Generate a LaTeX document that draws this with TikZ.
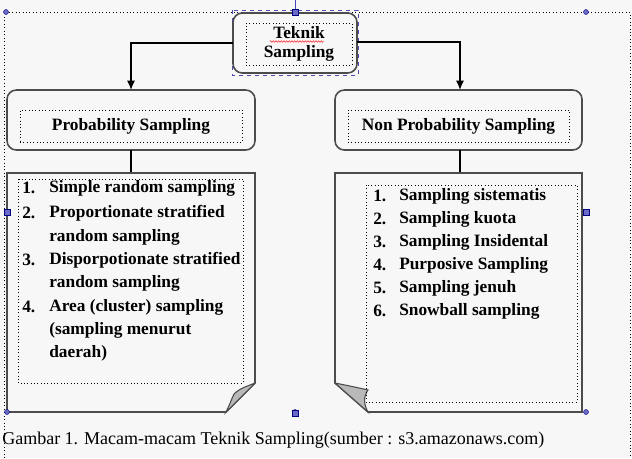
\documentclass[tikz,border=0pt]{standalone}
\usepackage{fontspec}
\setmainfont{Liberation Serif}
\usetikzlibrary{arrows.meta,decorations.pathmorphing}
\begin{document}
\begin{tikzpicture}[x=0.75pt,y=-0.75pt,
  rbox/.style={draw=black!70,line width=1.2pt,rounded corners=7pt},
  inner/.style={draw=black,dotted,line width=0.5pt},
  conn/.style={line width=0.9pt},
  arr/.style={conn,-{Latex[length=7pt,width=6pt]}},
  itm/.style={anchor=west,font=\fontsize{13}{14.5}\selectfont\bfseries,inner sep=0pt},
  hnd/.style={fill=blue!45!gray!80,draw=blue!50!black,line width=0.3pt},
  fold/.style={fill=gray!55,draw=black!70,line width=0.8pt}]
\useasboundingbox (0,0) rectangle (632,458);
\fill[gray!6] (0,0) rectangle (632,458);
% frame
\draw[dotted,line width=0.6pt] (4,458) -- (4,12) -- (630,12) -- (630,458);
% Teknik
\draw[dashed,blue!40!gray,line width=0.5pt] (232,10) rectangle (358,75);
\draw[rbox] (233,13) rectangle (357,73);
\node[inner,minimum width=106*0.75pt,minimum height=42*0.75pt,align=center,font=\fontsize{13}{14.5}\selectfont\bfseries,inner sep=1pt] (tk) at (299,44) {Teknik\\Sampling};
\draw[red,line width=0.3pt,decorate,decoration={zigzag,amplitude=0.6pt,segment length=2pt}] (270,41.5) -- (324,41.5);
% level 2
\draw[rbox] (7,90) rectangle (255,150);
\draw[rbox] (335,90) rectangle (582,150);
\node[inner,minimum width=222*0.75pt,minimum height=32*0.75pt,font=\fontsize{13}{14.5}\selectfont\bfseries] (pb) at (131,126) {Probability Sampling};
\node[inner,minimum width=221*0.75pt,minimum height=32*0.75pt,font=\fontsize{13}{14.5}\selectfont\bfseries] (npb) at (458.5,126) {Non Probability Sampling};
\coordinate (pt) at (131,90); \coordinate (nt) at (460,90);
\coordinate (pb2) at (131,150); \coordinate (nb2) at (460,150);
\coordinate (pl) at (131,173); \coordinate (nl) at (460,173);
\draw[arr] (233,43) -| (pt);
\draw[arr] (357,42) -| (nt);
\draw[conn] (pb2) -- (pl);
\draw[conn] (nb2) -- (nl);
% left page
\draw[draw=black!70,line width=1.2pt,fill=gray!6] (7,173) -- (255,173) -- (255,383) -- (226,412) -- (7,412) -- cycle;
\draw[fold] (255,383) -- (226,412) .. controls (230,404) and (232,398) .. (234,394) .. controls (240,388) and (248,386) .. (255,383);
\draw[inner] (18,179) rectangle (243,383);
\foreach \n/\y in {1./188,2./213,3./260,4./307}
  \node[itm] at (22,\y) {\n};
\foreach \y/\t in {188/Simple random sampling,213/Proportionate stratified,237/random sampling,260/Disporpotionate stratified,283/random sampling,307/Area (cluster) sampling,330/(sampling menurut,353/daerah)}
  \node[itm] at (49,\y) {\t};
% right page
\draw[draw=black!70,line width=1.2pt,fill=gray!6] (335,173) -- (582,173) -- (582,412) -- (368,412) -- (335,383) -- cycle;
\draw[fold] (335,383) -- (368,412) .. controls (364,405) and (363,397) .. (368,390) .. controls (355,387) and (345,385) .. (335,383);
\draw[inner] (366,185) rectangle (577,402);
\foreach \n/\y/\t in {1./196/Sampling sistematis,2./219/Sampling kuota,3./242/Sampling Insidental,4./265/Purposive Sampling,5./288/Sampling jenuh,6./311/Snowball sampling}{
  \node[itm] at (373,\y) {\n};
  \node[itm] at (399,\y) {\t};}
% caption
\node[anchor=west,inner sep=0pt,font=\fontsize{13.5}{15}\selectfont] (cap) at (2,440) {Gambar 1. Macam-macam Teknik Sampling(sumber : s3.amazonaws.com)};
% handles
\draw[blue!45!gray,line width=0.5pt] (295,0) -- (295,12);
\foreach \p in {(6,12),(586,12),(295,412),(7,412),(586,412)}
  \fill[hnd] \p circle (2.5);
\foreach \p in {(295,12),(7,212),(586,212),(295,413)}
  \filldraw[hnd] \p ++(-3,-3) rectangle ++(6,6);
\end{tikzpicture}
\end{document}
